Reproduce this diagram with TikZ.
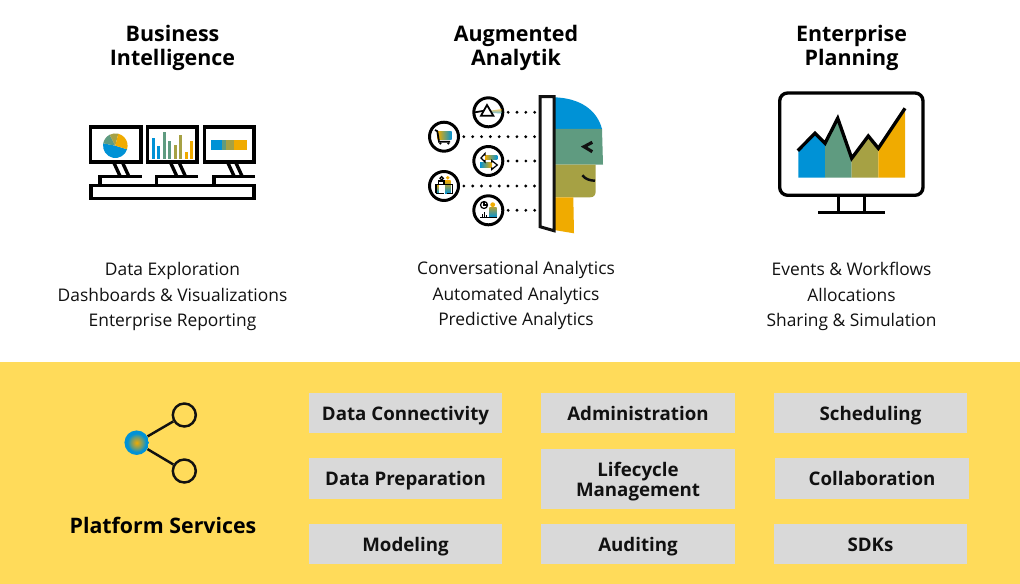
\documentclass[tikz,border=0pt]{standalone}
\usepackage{fontspec}
\setmainfont{Open Sans}
\definecolor{sapblue}{HTML}{0092D6}
\definecolor{sapgreen}{HTML}{5F9B80}
\definecolor{sapolive}{HTML}{A6A144}
\definecolor{sapgold}{HTML}{F0AB00}
\definecolor{bandyellow}{HTML}{FFDB5A}
\definecolor{boxgray}{HTML}{D9D9D9}
\definecolor{inkblack}{HTML}{111111}
\pgfdeclareradialshading{hubshade}{\pgfpointorigin}{color(0bp)=(sapgold); color(7bp)=(sapolive); color(13bp)=(sapgreen); color(19bp)=(sapblue); color(50bp)=(sapblue)}
\tikzset{
  heading/.style={align=center,font=\fontsize{12.2}{13.6}\selectfont\bfseries,text=black},
  bodytext/.style={align=center,font=\fontsize{9.9}{14.6}\selectfont,text=inkblack},
  svcbox/.style={fill=boxgray,minimum width=3.87cm,minimum height=0.81cm,align=center,
    font=\fontsize{10.65}{11.9}\selectfont\bfseries,text=inkblack},
  svcline/.style={svcbox,text height=10.5pt,text depth=2.5pt},
  iconline/.style={draw=black,line width=1.9pt},
  thinline/.style={draw=black,line width=0.7pt},
  bubble/.style={circle,draw=black,line width=1.7pt,fill=white,minimum size=0.58cm},
  dotrow/.style={line width=1.8pt,line cap=round,dash pattern=on 0pt off 5.03pt,shorten <=2.2pt},
  hollow/.style={circle,draw=inkblack,line width=1.4pt,minimum size=0.46cm},
}
\begin{document}
\begin{tikzpicture}[x=0.02cm,y=0.02cm]
\tikzstyle{every node}+=[inner sep=0pt]
\useasboundingbox (0,0) rectangle (1020,-584);
\fill [white] (0,0) rectangle (1020,-584);
\fill [bandyellow] (0,-362) rectangle (1020,-584);
% headings
\node [heading] (headbi) at (172.5,-47.5) {Business\\Intelligence};
\node [heading] (headaa) at (516,-47.5) {Augmented\\Analytik};
\node [heading] (headep) at (851.5,-47.5) {Enterprise\\Planning};
\node [bodytext] (bodybi) at (172.5,-296.5) {Data Exploration\\Dashboards \& Visualizations\\Enterprise Reporting};
\node [bodytext] (bodyaa) at (516,-295.8) {Conversational Analytics\\Automated Analytics\\Predictive Analytics};
\node [bodytext] (bodyep) at (851.5,-296.5) {Events \& Workflows\\Allocations\\Sharing \& Simulation};
% three screens
\fill [sapblue] (115.3,-145.7) -- ++(169:12.3) arc (169:343:12.3) -- cycle;
\fill [sapgreen] (115.3,-145.7) -- ++(117:12.3) arc (117:169:12.3) -- cycle;
\fill [sapolive] (115.3,-145.7) -- ++(76:12.3) arc (76:117:12.3) -- cycle;
\fill [sapgold] (115.3,-145.7) -- ++(-17:12.3) arc (-17:76:12.3) -- cycle;
\fill [sapblue] (151.7,-158.7) rectangle (154.7,-138);
\fill [sapblue] (157.3,-158.7) rectangle (160.3,-146);
\fill [sapgreen] (162.7,-158.7) rectangle (165.7,-132.3);
\fill [sapgreen] (168.3,-158.7) rectangle (171.3,-141);
\fill [sapolive] (173.7,-158.7) rectangle (176.7,-144.7);
\fill [sapolive] (179,-158.7) rectangle (182,-135.3);
\fill [sapgold] (184.7,-158.7) rectangle (187.7,-152.3);
\fill [sapgold] (190,-158.7) rectangle (193,-141);
\fill [sapblue] (211.3,-140) rectangle (221.7,-150);
\fill [sapgreen] (221.7,-140) rectangle (225.7,-150);
\fill [sapolive] (225.7,-140) rectangle (234,-150);
\fill [sapgold] (234,-140) rectangle (247.3,-150);
\draw [iconline] (90.5,-127) rectangle (141,-162);
\draw [iconline] (147.5,-127) rectangle (197,-162);
\draw [iconline] (204.5,-127) rectangle (254,-162);
\draw [iconline] (114,-163) -- (120,-176);
\draw [iconline] (122.7,-163) -- (128.7,-176);
\draw [iconline] (170.7,-163) -- (176.7,-176);
\draw [iconline] (179.3,-163) -- (185.3,-176);
\draw [iconline] (228,-163) -- (234,-176);
\draw [iconline] (236,-163) -- (242,-176);
\draw [iconline] (141.7,-176.7) -- (100,-176.7) -- (100,-185);
\draw [iconline] (198,-176.7) -- (156.7,-176.7) -- (156.7,-185);
\draw [iconline] (255,-176.7) -- (214,-176.7) -- (214,-185);
\draw [iconline] (91,-185.5) rectangle (254,-198.5);
% head and panel
\fill [sapblue] (554,-97.3) .. controls (580,-98) and (597,-110) .. (602,-129) -- (554,-129) -- cycle;
\fill [sapgreen] (554,-129) -- (602,-129) -- (603,-164.7) -- (554,-164.7) -- cycle;
\fill [sapolive] (554,-164.7) -- (595.7,-164.7) -- (595.7,-191) .. controls (595.7,-195) and (594,-197.3) .. (590,-197.3) -- (554,-197.3) -- cycle;
\fill [sapgold] (554,-197.3) -- (573.3,-197.3) -- (574,-233.3) -- (554,-230) -- cycle;
\draw [draw=inkblack,fill=white,line width=1.7pt] (540,-96.7) -- (554,-96.7) -- (554,-230.7) -- (540,-226.7) -- cycle;
\draw [draw=inkblack,line width=1.8pt] (592.3,-142.3) -- (584,-146.7) -- (592.3,-151.7);
\draw [draw=inkblack,line width=1.4pt] (582.3,-175.3) .. controls (585,-179) and (590,-180.7) .. (595,-180.7);
% round icons with dotted rows
\node [bubble] (prism) at (488.3,-112.3) {};
\node [bubble] (cart) at (444,-136.7) {};
\node [bubble] (swap) at (488.3,-161) {};
\node [bubble] (desk) at (444,-186) {};
\node [bubble] (clock) at (488.3,-210.3) {};
\coordinate (panela) at (535.5,-112.3);
\coordinate (panelb) at (535.5,-136.7);
\coordinate (panelc) at (535.5,-161);
\coordinate (paneld) at (535.5,-186);
\coordinate (panele) at (535.5,-210.3);
\draw [dotrow] (prism.east) -- (panela);
\draw [dotrow] (cart.east) -- (panelb);
\draw [dotrow] (swap.east) -- (panelc);
\draw [dotrow] (desk.east) -- (paneld);
\draw [dotrow] (clock.east) -- (panele);
% prism
\shade [top color=sapgold,bottom color=sapblue,opacity=0.6] (490,-110.7) -- (502,-109) -- (502.5,-113.5) -- (491,-113) -- cycle;
\draw [thinline,line width=1pt] (475,-112.3) -- (484.3,-110.7);
\draw [thinline,line width=1pt,fill=white] (487,-105) -- (481,-115.7) -- (493.3,-115.7) -- cycle;
% cart
\shade [left color=sapgold,right color=sapblue] (437.7,-131.7) rectangle (451.7,-139.3);
\draw [thinline,line width=1pt] (435,-130) -- (437.3,-131.2) -- (439,-141.7) -- (450,-141.7);
\fill [black] (440.3,-143.5) circle (1.2);
\fill [black] (448.3,-143.5) circle (1.2);
% arrows
\shade [left color=sapgold,right color=sapblue] (485,-155.7) rectangle (497.3,-160);
\shade [left color=sapblue,right color=sapgold] (480,-162.7) rectangle (491.7,-167.3);
\draw [thinline] (485,-155.7) -- (485,-153.5) -- (481,-158) -- (485,-162) -- (485,-160);
\draw [thinline] (491.7,-162.7) -- (491.7,-160.5) -- (497.3,-165) -- (491.7,-169.5) -- (491.7,-167.3);
% desk
\draw [thinline] (441.7,-178.3) circle (1.7);
\fill [sapgold] (447.7,-177.7) circle (1.9);
\shade [top color=sapgold,bottom color=sapblue] (445,-180.7) rectangle (450.7,-193.3);
\draw [thinline] (438.5,-184.3) -- (438.5,-181) -- (444,-181) -- (444,-184.3);
\shade [top color=sapgold,bottom color=sapblue] (436,-184.3) rectangle (438.7,-193.3);
\draw [thinline] (436,-193.3) -- (436,-184.3) -- (452.3,-184.3) -- (452.3,-193.3) -- (447,-193.3);
\draw [thinline] (436,-193.3) -- (444,-193.3);
% clock
\draw [thinline] (484,-205) circle (3.5);
\draw [thinline] (484,-202.5) -- (484,-205) -- (486.5,-205);
\fill [sapgold] (492.7,-204.7) circle (2.4);
\shade [top color=sapolive,bottom color=sapblue] (489.3,-207.7) rectangle (496.7,-217.3);
\fill [black] (481.5,-217.3) rectangle (482.5,-213.5);
\fill [black] (483.5,-217.3) rectangle (484.5,-211.5);
\fill [black] (485.5,-217.3) rectangle (486.5,-214.5);
\draw [thinline] (480,-217.5) -- (497.3,-217.5);
% planning screen
\fill [sapblue] (798.3,-150) -- (815,-133.3) -- (825,-143.3) -- (825,-177.7) -- (798.3,-177.7) -- cycle;
\fill [sapgreen] (825,-143.3) -- (837.7,-118.3) -- (851.7,-158.3) -- (851.7,-177.7) -- (825,-177.7) -- cycle;
\fill [sapolive] (851.7,-158.3) -- (868.3,-136) -- (878.3,-148.3) -- (878.3,-177.7) -- (851.7,-177.7) -- cycle;
\fill [sapgold] (878.3,-148.3) -- (905,-108.3) -- (905,-177.7) -- (878.3,-177.7) -- cycle;
\draw [iconline] (797.7,-150.7) -- (815,-133.3) -- (825,-143.3) -- (837.7,-118.3) -- (851.7,-158.3) -- (868.3,-136) -- (878.3,-148.3) -- (905,-108.3);
\draw [iconline,rounded corners=4.5pt] (779.7,-93) rectangle (923,-195.3);
\draw [iconline] (838.3,-196) -- (838.3,-212);
\draw [iconline] (864.7,-196) -- (864.7,-212);
\draw [iconline] (818.3,-212.3) -- (885,-212.3);
% platform services
\node [circle,minimum size=0.49cm,shading=hubshade] (hub) at (136.7,-442.7) {};
\node [hollow] (leafa) at (184.3,-415) {};
\node [hollow] (leafb) at (184.3,-471) {};
\draw [draw=inkblack,line width=1.4pt] (hub) -- (leafa);
\draw [draw=inkblack,line width=1.4pt] (hub) -- (leafb);
\node [font=\fontsize{12.15}{14}\selectfont\bfseries,text=black] (platform) at (163,-525) {Platform Services};
\node [svcline] (connect) at (405.5,-413) {Data Connectivity};
\node [svcline] (prep) at (405.5,-478.5) {Data Preparation};
\node [svcline] (model) at (405.5,-544) {Modeling};
\node [svcline] (admin) at (638,-413) {Administration};
\node [svcbox,minimum height=1.21cm,text height=23pt] (life) at (638,-479) {Lifecycle\\Management};
\node [svcline] (audit) at (638,-544) {Auditing};
\node [svcline] (sched) at (870.5,-413) {Scheduling};
\node [svcline] (collab) at (872,-478.5) {Collaboration};
\node [svcline] (sdk) at (870.5,-544) {SDKs};
\end{tikzpicture}
\end{document}
